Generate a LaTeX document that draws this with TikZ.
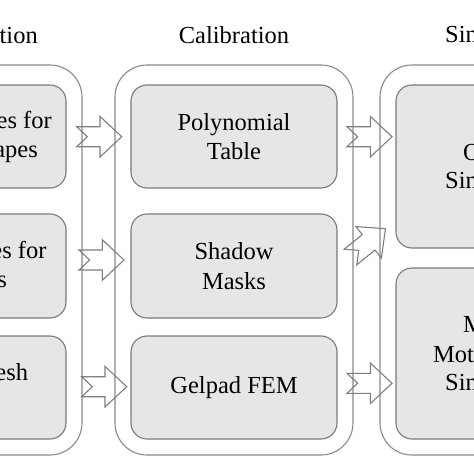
\documentclass[tikz,border=0pt]{standalone}
\usepackage{fontspec}
\setmainfont{Liberation Serif}
\definecolor{outeredge}{HTML}{8A8A8A}
\definecolor{boxedge}{HTML}{7A7A7A}
\definecolor{boxfill}{HTML}{E6E6E6}
\definecolor{arrowedge}{HTML}{7F7F7F}
\begin{document}
\begin{tikzpicture}[x=1pt,y=-1pt,
  font=\fontsize{24.5}{29.5}\selectfont,
  outerbox/.style={draw=outeredge, line width=1.1pt, rounded corners=32pt, inner sep=0pt, minimum width=238pt, minimum height=390pt},
  stagebox/.style={draw=boxedge, fill=boxfill, line width=1.1pt, rounded corners=16pt, minimum width=206pt, inner sep=0pt, align=center},
  frag/.style={inner sep=0pt},
  blockarrow/.pic={\draw[draw=arrowedge, line width=1.1pt, line join=miter]
      (0,-10) -- (23.3,-10) -- (23.3,-20.3) -- (45,0) -- (23.3,20.3) -- (23.3,10) -- (0,10) -- (10.6,0) -- cycle;}
]
\useasboundingbox (0,0) rectangle (474,474);
\clip (0,0) rectangle (474,474);
\fill[white] (0,0) rectangle (474,474);

% outer stage frames
\node[outerbox] (leftframe) at (-37,260) {};
\node[outerbox] (calibframe) at (234,260) {};
\node[outerbox] (rightframe) at (499,260) {};

% titles
\node[frag, anchor=base east] (lefttitle) at (38,43) {tion};
\node[frag, anchor=base] (calibtitle) at (234,43) {Calibration};
\node[frag, anchor=base west] (righttitle) at (445,42) {Sin};

% left column boxes
\node[stagebox, minimum height=103pt] (l1) at (-37,136.5) {};
\node[stagebox, minimum height=104pt] (l2) at (-37,266) {};
\node[stagebox, minimum height=103pt] (l3) at (-37,387.5) {};
\node[frag, anchor=base east] (l1a) at (52,128) {es for};
\node[frag, anchor=base east] (l1b) at (38,157) {apes};
\node[frag, anchor=base east] (l2a) at (46.7,258) {es for};
\node[frag, anchor=base east] (l2b) at (7,287) {s};
\node[frag, anchor=base east] (l3a) at (28.3,380) {esh};

% calibration boxes
\node[stagebox, minimum height=103pt] (poly) at (234,136.5) {Polynomial\\Table};
\node[stagebox, minimum height=104pt] (shadow) at (234,266) {Shadow\\Masks};
\node[stagebox, minimum height=103pt] (fem) at (234,387.5) {Gelpad FEM};

% right column boxes
\node[stagebox, minimum height=163pt] (r1) at (499,166.5) {};
\node[stagebox, minimum height=171pt] (r2) at (499,353.5) {};
\node[frag, anchor=base west] (r1a) at (463,160) {O};
\node[frag, anchor=base west] (r1b) at (445,188) {Sin};
\node[frag, anchor=base west] (r2a) at (463,332) {M};
\node[frag, anchor=base west] (r2b) at (433,362) {Mot};
\node[frag, anchor=base west] (r2c) at (445,390) {Sin};

% block arrows
\pic at (76.7,136.7) {blockarrow};
\pic at (79,260) {blockarrow};
\pic at (81.7,386.7) {blockarrow};
\pic at (347,136.7) {blockarrow};
\pic[rotate=39] at (350.5,257) {blockarrow};
\pic at (347,383.3) {blockarrow};
\end{tikzpicture}
\end{document}
